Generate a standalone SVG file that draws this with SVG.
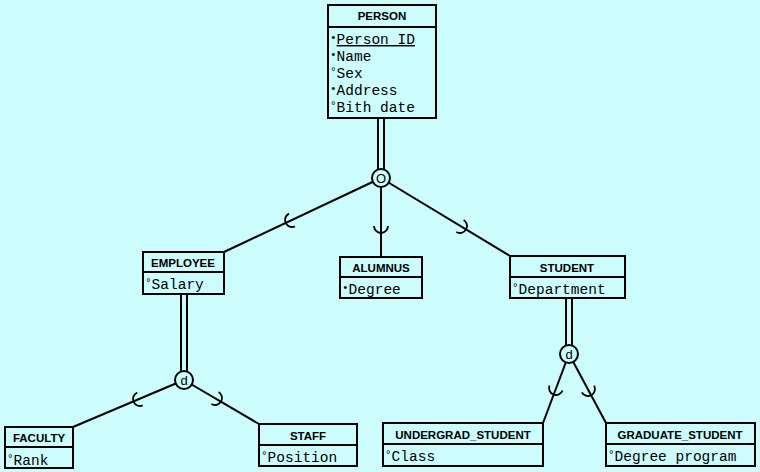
<svg xmlns="http://www.w3.org/2000/svg" width="760" height="472" viewBox="0 0 760 472">
<style>
.box{fill:none;stroke:#000;stroke-width:2}
.h{font-family:"Liberation Sans",Arial,sans-serif;font-weight:bold;font-size:11.5px;text-anchor:middle}
.a{font-family:"Liberation Mono","Courier New",monospace;font-size:14.5px}
.m{font-size:11px}
.ln{stroke:#000;stroke-width:2;fill:none}
.arc{stroke:#000;stroke-width:1.8;fill:none}
.c{fill:#ccfcfc;stroke:#000;stroke-width:2}
.ct{font-family:"Liberation Sans",Arial,sans-serif;font-size:13px;text-anchor:middle}
</style>
<defs><path id="u" d="M-7,0 A7,7 0 0 0 7,0" class="arc"/></defs>
<rect width="760" height="472" fill="#ccfcfc"/>
<g id="connectors">
<line class="ln" x1="378" y1="118" x2="378" y2="172"/><line class="ln" x1="384" y1="118" x2="384" y2="172"/>
<line class="ln" x1="381" y1="178" x2="224" y2="252"/>
<line class="ln" x1="381" y1="178" x2="381" y2="257"/>
<line class="ln" x1="381" y1="178" x2="510" y2="256"/>
<use href="#u" transform="translate(292,220) rotate(64.8)"/>
<use href="#u" transform="translate(381,226)"/>
<use href="#u" transform="translate(460,226) rotate(-58.8)"/>
<line class="ln" x1="181" y1="294" x2="181" y2="374"/><line class="ln" x1="187" y1="294" x2="187" y2="374"/>
<line class="ln" x1="184" y1="380" x2="73" y2="427"/>
<line class="ln" x1="184" y1="380" x2="259" y2="424"/>
<use href="#u" transform="translate(140,399) rotate(67)"/>
<use href="#u" transform="translate(215,398) rotate(-59.6)"/>
<line class="ln" x1="566" y1="298" x2="566" y2="348"/><line class="ln" x1="572" y1="298" x2="572" y2="348"/>
<line class="ln" x1="569" y1="354" x2="543" y2="423"/>
<line class="ln" x1="569" y1="354" x2="606" y2="423"/>
<use href="#u" transform="translate(556,388) rotate(20.6)"/>
<use href="#u" transform="translate(588,389) rotate(-28.2)"/>
<circle class="c" cx="381" cy="178" r="9"/><text class="ct" x="381" y="183">O</text>
<circle class="c" cx="184" cy="380" r="9"/><text class="ct" x="184" y="385">d</text>
<circle class="c" cx="569" cy="354" r="9"/><text class="ct" x="569" y="359">d</text>
</g>
<g id="person">
<rect class="box" x="328" y="5" width="108" height="113"/><line class="ln" x1="328" y1="27" x2="436" y2="27"/>
<text class="h" x="382" y="20">PERSON</text>
<text class="a" x="330" y="44"><tspan class="m" dy="-3">•</tspan><tspan dy="3" text-decoration="underline">Person_ID </tspan></text>
<text class="a" x="330" y="61"><tspan class="m" dy="-3">•</tspan><tspan dy="3">Name</tspan></text>
<text class="a" x="330" y="78"><tspan class="m" dy="-3">°</tspan><tspan dy="3">Sex</tspan></text>
<text class="a" x="330" y="95"><tspan class="m" dy="-3">•</tspan><tspan dy="3">Address</tspan></text>
<text class="a" x="330" y="112"><tspan class="m" dy="-3">°</tspan><tspan dy="3">Bith date</tspan></text>
</g>
<g id="employee">
<rect class="box" x="143" y="252" width="81" height="42"/><line class="ln" x1="143" y1="272" x2="224" y2="272"/>
<text class="h" x="183" y="267">EMPLOYEE</text>
<text class="a" x="145" y="289"><tspan class="m" dy="-3">°</tspan><tspan dy="3">Salary</tspan></text>
</g>
<g id="alumnus">
<rect class="box" x="340" y="257" width="82" height="41"/><line class="ln" x1="340" y1="277" x2="422" y2="277"/>
<text class="h" x="381" y="272">ALUMNUS</text>
<text class="a" x="342" y="294"><tspan class="m" dy="-3">•</tspan><tspan dy="3">Degree</tspan></text>
</g>
<g id="student">
<rect class="box" x="510" y="256" width="115" height="42"/><line class="ln" x1="510" y1="277" x2="625" y2="277"/>
<text class="h" x="567" y="272">STUDENT</text>
<text class="a" x="512" y="294"><tspan class="m" dy="-3">°</tspan><tspan dy="3">Department</tspan></text>
</g>
<g id="faculty">
<rect class="box" x="5" y="427" width="68" height="41"/><line class="ln" x1="5" y1="447" x2="73" y2="447"/>
<text class="h" x="39" y="442">FACULTY</text>
<text class="a" x="7" y="465"><tspan class="m" dy="-3">°</tspan><tspan dy="3">Rank</tspan></text>
</g>
<g id="staff">
<rect class="box" x="259" y="424" width="98" height="42"/><line class="ln" x1="259" y1="445" x2="357" y2="445"/>
<text class="h" x="308" y="440">STAFF</text>
<text class="a" x="261" y="462"><tspan class="m" dy="-3">°</tspan><tspan dy="3">Position</tspan></text>
</g>
<g id="undergrad">
<rect class="box" x="383" y="423" width="160" height="43"/><line class="ln" x1="383" y1="444" x2="543" y2="444"/>
<text class="h" x="463" y="439">UNDERGRAD_STUDENT</text>
<text class="a" x="385" y="461"><tspan class="m" dy="-3">°</tspan><tspan dy="3">Class</tspan></text>
</g>
<g id="graduate">
<rect class="box" x="606" y="423" width="149" height="43"/><line class="ln" x1="606" y1="444" x2="755" y2="444"/>
<text class="h" x="680" y="439">GRADUATE_STUDENT</text>
<text class="a" x="608" y="461"><tspan class="m" dy="-3">°</tspan><tspan dy="3">Degree program</tspan></text>
</g>
</svg>
